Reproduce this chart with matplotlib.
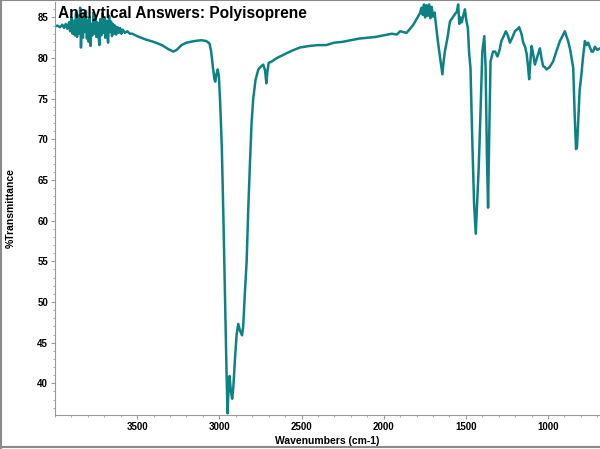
import matplotlib.pyplot as plt
from matplotlib.ticker import MultipleLocator
from matplotlib.lines import Line2D

plt.rcParams['font.family'] = ['Liberation Sans', 'DejaVu Sans']

title = "Analytical Answers: Polyisoprene"
x_label = "Wavenumbers (cm-1)"
y_label = "%Transmittance"

# spectrum (wavenumber, %T)
wavenumber = [
    3998, 3985, 3970, 3955, 3945, 3935, 3925, 3915, 3908, 3900, 3893, 3886,
    3879, 3872, 3866, 3860, 3853, 3847, 3842, 3836, 3830, 3824, 3818, 3812,
    3806, 3800, 3795, 3790, 3784, 3778, 3772, 3766, 3760, 3754, 3748, 3742,
    3736, 3730, 3724, 3718, 3712, 3706, 3700, 3694, 3688, 3682, 3677, 3671,
    3665, 3659, 3653, 3647, 3641, 3635, 3628, 3620, 3612, 3604, 3596, 3588,
    3575, 3560, 3545, 3530, 3500, 3450, 3400, 3350, 3310, 3280, 3260, 3230,
    3200, 3150, 3110, 3080, 3060, 3050, 3040, 3030, 3025, 3018, 3010, 3003,
    2995, 2985, 2975, 2965, 2957, 2950, 2944, 2938, 2930, 2922, 2915, 2905,
    2895, 2885, 2875, 2862, 2855, 2845, 2834, 2824, 2814, 2804, 2794, 2780,
    2763, 2745, 2733, 2722, 2714, 2708, 2700, 2680, 2651, 2611, 2560, 2510,
    2450, 2400, 2350, 2300, 2250, 2200, 2150, 2100, 2050, 2000, 1950, 1920,
    1900, 1880, 1861, 1840, 1820, 1800, 1780, 1770, 1762, 1755, 1748, 1740,
    1732, 1724, 1716, 1708, 1700, 1690, 1680, 1670, 1660, 1650, 1643, 1636,
    1628, 1612, 1597, 1580, 1567, 1555, 1547, 1540, 1532, 1525, 1516, 1506,
    1497, 1488, 1480, 1472, 1462, 1450, 1440, 1432, 1422, 1410, 1400, 1388,
    1380, 1372, 1365, 1358, 1350, 1335, 1322, 1308, 1295, 1284, 1270, 1257,
    1245, 1232, 1218, 1202, 1185, 1176, 1162, 1151, 1140, 1130, 1122, 1115,
    1108, 1100, 1090, 1080, 1065, 1050, 1040, 1030, 1020, 1009, 990, 969,
    950, 928, 910, 898, 890, 878, 865, 855, 847, 838, 830, 824,
    816, 808, 797, 788, 776, 766, 756, 745, 735, 726, 715, 700,
    685, 675,
]
transmittance = [
    83.9, 84.0, 83.8, 84.1, 83.7, 84.2, 83.6, 84.4, 83.3, 85.0, 83.0, 84.6,
    82.8, 85.6, 82.6, 85.2, 83.0, 86.2, 81.3, 84.8, 82.5, 85.4, 83.2, 85.8,
    82.4, 84.6, 82.0, 85.0, 81.5, 84.2, 82.8, 85.6, 83.0, 85.1, 82.6, 84.4,
    82.9, 81.6, 84.8, 82.8, 85.5, 83.1, 85.0, 82.5, 84.6, 83.0, 81.9, 85.2,
    83.2, 84.5, 82.7, 84.2, 83.0, 84.0, 82.9, 83.8, 83.1, 83.7, 83.0, 83.5,
    83.1, 83.3, 83.0, 83.0, 82.7, 82.3, 82.0, 81.6, 81.1, 80.8, 81.0, 81.6,
    81.9, 82.1, 82.2, 82.1, 81.8, 80.8, 79.0, 77.4, 77.1, 78.0, 78.6, 77.8,
    74.5, 69.0, 60.0, 50.0, 42.0, 36.3, 39.5, 40.9, 39.0, 38.1, 39.5, 43.0,
    46.0, 47.3, 46.5, 45.9, 47.0, 51.0, 55.0, 61.5, 67.0, 72.0, 75.0, 77.3,
    78.6, 79.0, 79.2, 78.5, 76.9, 78.3, 79.4, 79.6, 80.0, 80.4, 80.9, 81.3,
    81.5, 81.6, 81.6, 81.9, 82.0, 82.2, 82.4, 82.5, 82.6, 82.8, 83.0, 82.9,
    83.3, 83.2, 83.1, 83.6, 84.1, 84.8, 85.5, 86.2, 85.3, 86.6, 85.0, 86.5,
    85.2, 86.6, 84.9, 86.3, 85.1, 85.6, 83.7, 82.0, 80.5, 79.0, 78.0, 79.5,
    80.8, 82.5, 84.5, 85.0, 85.4, 85.7, 86.6, 84.2, 85.0, 84.4, 85.2, 86.0,
    84.6, 83.7, 80.5, 78.8, 70.6, 62.0, 58.4, 62.0, 66.5, 74.0, 80.8, 82.7,
    78.8, 68.0, 61.6, 70.6, 79.6, 80.8, 80.8, 80.2, 81.0, 82.1, 82.7, 83.3,
    82.8, 81.9, 82.5, 83.3, 83.6, 83.8, 83.0, 81.9, 81.4, 80.5, 79.0, 77.4,
    79.5, 81.5, 80.4, 79.2, 80.2, 81.2, 80.0, 79.0, 78.9, 78.6, 78.9, 79.6,
    80.8, 82.1, 82.8, 83.3, 82.8, 82.1, 81.0, 79.8, 78.8, 73.0, 68.8, 69.0,
    72.5, 76.0, 78.0, 80.0, 82.1, 81.6, 81.9, 81.3, 80.8, 80.8, 81.4, 81.0,
    81.2, 81.2,
]

fig = plt.figure(figsize=(6, 4.49), dpi=100)
ax = fig.add_axes([55 / 600, 1 - 415 / 449, 1 - 55 / 600, 413 / 449])

ax.plot(wavenumber, transmittance, color='#0e8282', lw=1.8, zorder=2)

ax.set_xlim(4000, 684)
ax.set_ylim(36.1, 86.9)
ax.xaxis.set_major_locator(MultipleLocator(500))
ax.xaxis.set_minor_locator(MultipleLocator(100))
ax.yaxis.set_major_locator(MultipleLocator(5))
ax.yaxis.set_minor_locator(MultipleLocator(1))
ax.set_xticks([3500, 3000, 2500, 2000, 1500, 1000])
ax.set_yticks(range(40, 90, 5))

for side in ['top', 'right']:
    ax.spines[side].set_visible(False)
for side in ['left', 'bottom']:
    ax.spines[side].set_color('#9a9a9a')
    ax.spines[side].set_linewidth(0.8)

ax.tick_params(which='major', length=3, width=0.8, color='#9a9a9a',
               labelsize=7, pad=2)
ax.tick_params(which='minor', length=1.5, width=0.6, color='#9a9a9a')
for lab in ax.get_xticklabels() + ax.get_yticklabels():
    lab.set_fontweight('bold')

ax.set_xlabel(x_label, fontsize=7.5, fontweight='bold', labelpad=3)
ax.set_ylabel(y_label, fontsize=7.5, fontweight='bold')
ax.yaxis.set_label_coords(-39 / 545, 0.5)

fig.text(58 / 600, 1 - 18 / 449, title, fontsize=11.2, fontweight='bold',
         va='baseline', ha='left', zorder=5)

# grey frame around the picture (left, top, bottom)
for xs, ys in [([0.002, 0.002], [0, 1]), ([0, 1], [0.999, 0.999]),
               ([0, 1], [0.004, 0.004])]:
    fig.add_artist(Line2D(xs, ys, color='#8a8a8a', lw=1.5,
                          transform=fig.transFigure))

fig.savefig('out.png', dpi=100)
